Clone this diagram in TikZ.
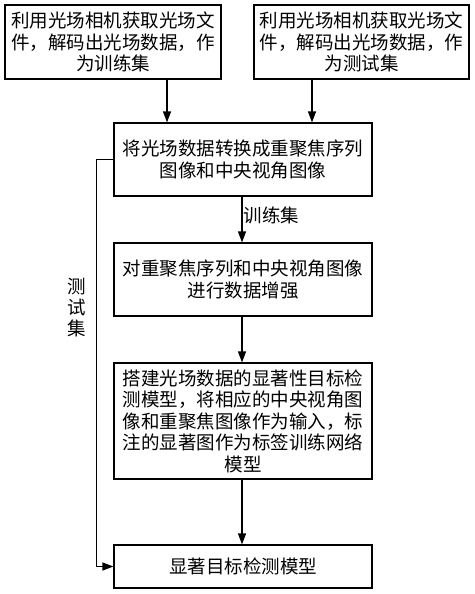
\documentclass[tikz,border=0pt]{standalone}
\usepackage{fontspec}
\setmainfont{Noto Sans CJK SC}
\usetikzlibrary{arrows.meta}

\begin{document}
\begin{tikzpicture}[x=1pt,y=-1pt,line width=1.2pt]
	\tikzstyle{kuang}=[draw,align=center,inner sep=1pt,font=\fontsize{18.5}{21.5}\selectfont];
	\tikzstyle{jiantou}=[-{Triangle[length=11pt,width=8pt]}];
	\tikzstyle{biaoqian}=[align=center,inner sep=1pt,font=\fontsize{18.5}{21}\selectfont];
	\useasboundingbox (0,0) rectangle (474,594);
	%% boxes
	\node[kuang,minimum width=216,minimum height=74] (b1) at (113,42)    {利用光场相机获取光场文\\件，解码出光场数据，作\\为训练集};
	\node[kuang,minimum width=215,minimum height=74] (b2) at (361.5,42)  {利用光场相机获取光场文\\件，解码出光场数据，作\\为测试集};
	\node[kuang,minimum width=258,minimum height=73] (b3) at (243,159.5) {将光场数据转换成重聚焦序列\\图像和中央视角图像};
	\node[kuang,minimum width=258,minimum height=73] (b4) at (243,279.5) {对重聚焦序列和中央视角图像\\进行数据增强};
	\node[kuang,minimum width=258,minimum height=116] (b5) at (243,421) {搭建光场数据的显著性目标检\\测模型，将相应的中央视角图\\像和重聚焦图像作为输入，标\\注的显著图作为标签训练网络\\模型};
	\node[kuang,minimum width=258,minimum height=43] (b6) at (243,566.5) {显著目标检测模型};
	%% arrows
	\draw[jiantou] ([xshift=54]b1.south) -- ([xshift=54]b1.south |- b3.north);
	\draw[jiantou] ([xshift=-49.5]b2.south) -- ([xshift=-49.5]b2.south |- b3.north);
	\draw[jiantou] ([xshift=-1]b3.south) -- node[biaoqian,right,pos=0.4] {训练集} ([xshift=-1]b4.north);
	\draw[jiantou] ([xshift=-1]b4.south) -- ([xshift=-1]b5.north);
	\draw[jiantou] ([xshift=-1]b5.south) -- ([xshift=-1]b6.north);
	\draw[jiantou] (b3.west) -- ++(-17,0) |- (b6.west);
	\node[biaoqian] (ce) at (77,308) {测\\试\\集};
\end{tikzpicture}
\end{document}
